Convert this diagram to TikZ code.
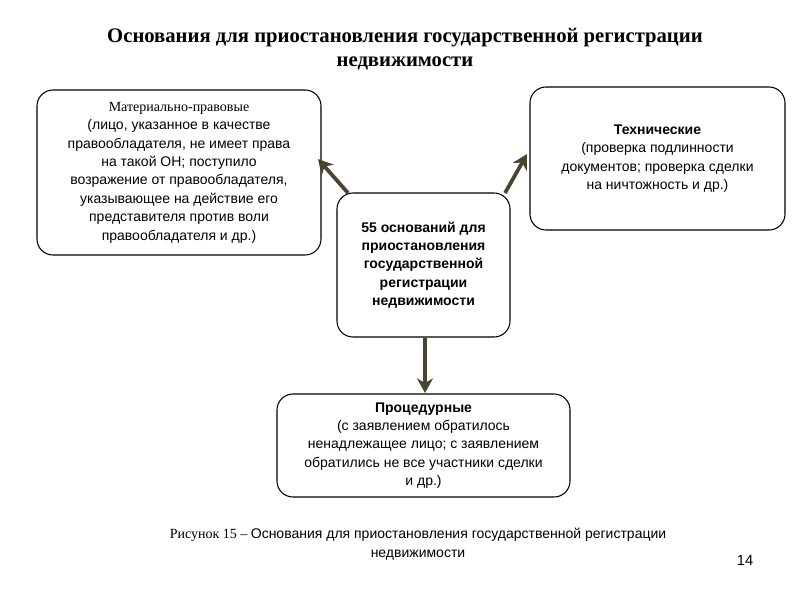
\documentclass[tikz,border=0pt]{standalone}
\usepackage{fontspec}
\usetikzlibrary{arrows.meta}
\setmainfont{Liberation Serif}
\newfontfamily\arialf{Liberation Sans}
\definecolor{arr}{HTML}{4A4330}
\begin{document}
\begin{tikzpicture}[x=0.75pt,y=-0.75pt,
  box/.style={draw,rounded corners=12pt,line width=0.8pt,align=center,font=\arialf\fontsize{10.5}{13.8}\selectfont,inner sep=2pt},
  arrw/.style={-{Stealth[length=11pt,width=12pt]},line width=2.8pt,draw=arr}]
\useasboundingbox (0,0) rectangle (800,600);
\node[font=\bfseries\fontsize{15.5}{18}\selectfont,align=center] (title) at (405,49) {Основания для приостановления государственной регистрации\\недвижимости};
\node[box,minimum width=284*0.75pt,minimum height=165*0.75pt] (L) at (179,172.5)
 {{\rmfamily Материально-правовые}\\(лицо, указанное в качестве\\правообладателя, не имеет права\\на такой ОН; поступило\\возражение от правообладателя,\\указывающее на действие его\\представителя против воли\\правообладателя и др.)};
\node[box,minimum width=255*0.75pt,minimum height=143*0.75pt] (R) at (657.5,158.5)
 {\textbf{Технические}\\(проверка подлинности\\документов; проверка сделки\\на ничтожность и др.)};
\node[box,minimum width=173*0.75pt,minimum height=144*0.75pt,font=\arialf\bfseries\fontsize{10.5}{13.8}\selectfont] (C) at (423.5,265)
 {55 оснований для\\приостановления\\государственной\\регистрации\\недвижимости};
\node[box,minimum width=293*0.75pt,minimum height=103*0.75pt] (B) at (423.5,445.5)
 {\textbf{Процедурные}\\(с заявлением обратилось\\ненадлежащее лицо; с заявлением\\обратились не все участники сделки\\и др.)};
\draw[arrw] (348,193) -- (318,159);
\draw[arrw] (505,193) -- (527,154);
\draw[arrw] (425,338) -- (425,393);
\node[align=center,font=\fontsize{10.5}{14}\selectfont] (cap) at (418,544) {Рисунок 15 – {\arialf Основания для приостановления государственной регистрации}\\{\arialf недвижимости}};
\node[font=\arialf\fontsize{11}{13}\selectfont] (pg) at (745,560) {14};
\end{tikzpicture}
\end{document}
